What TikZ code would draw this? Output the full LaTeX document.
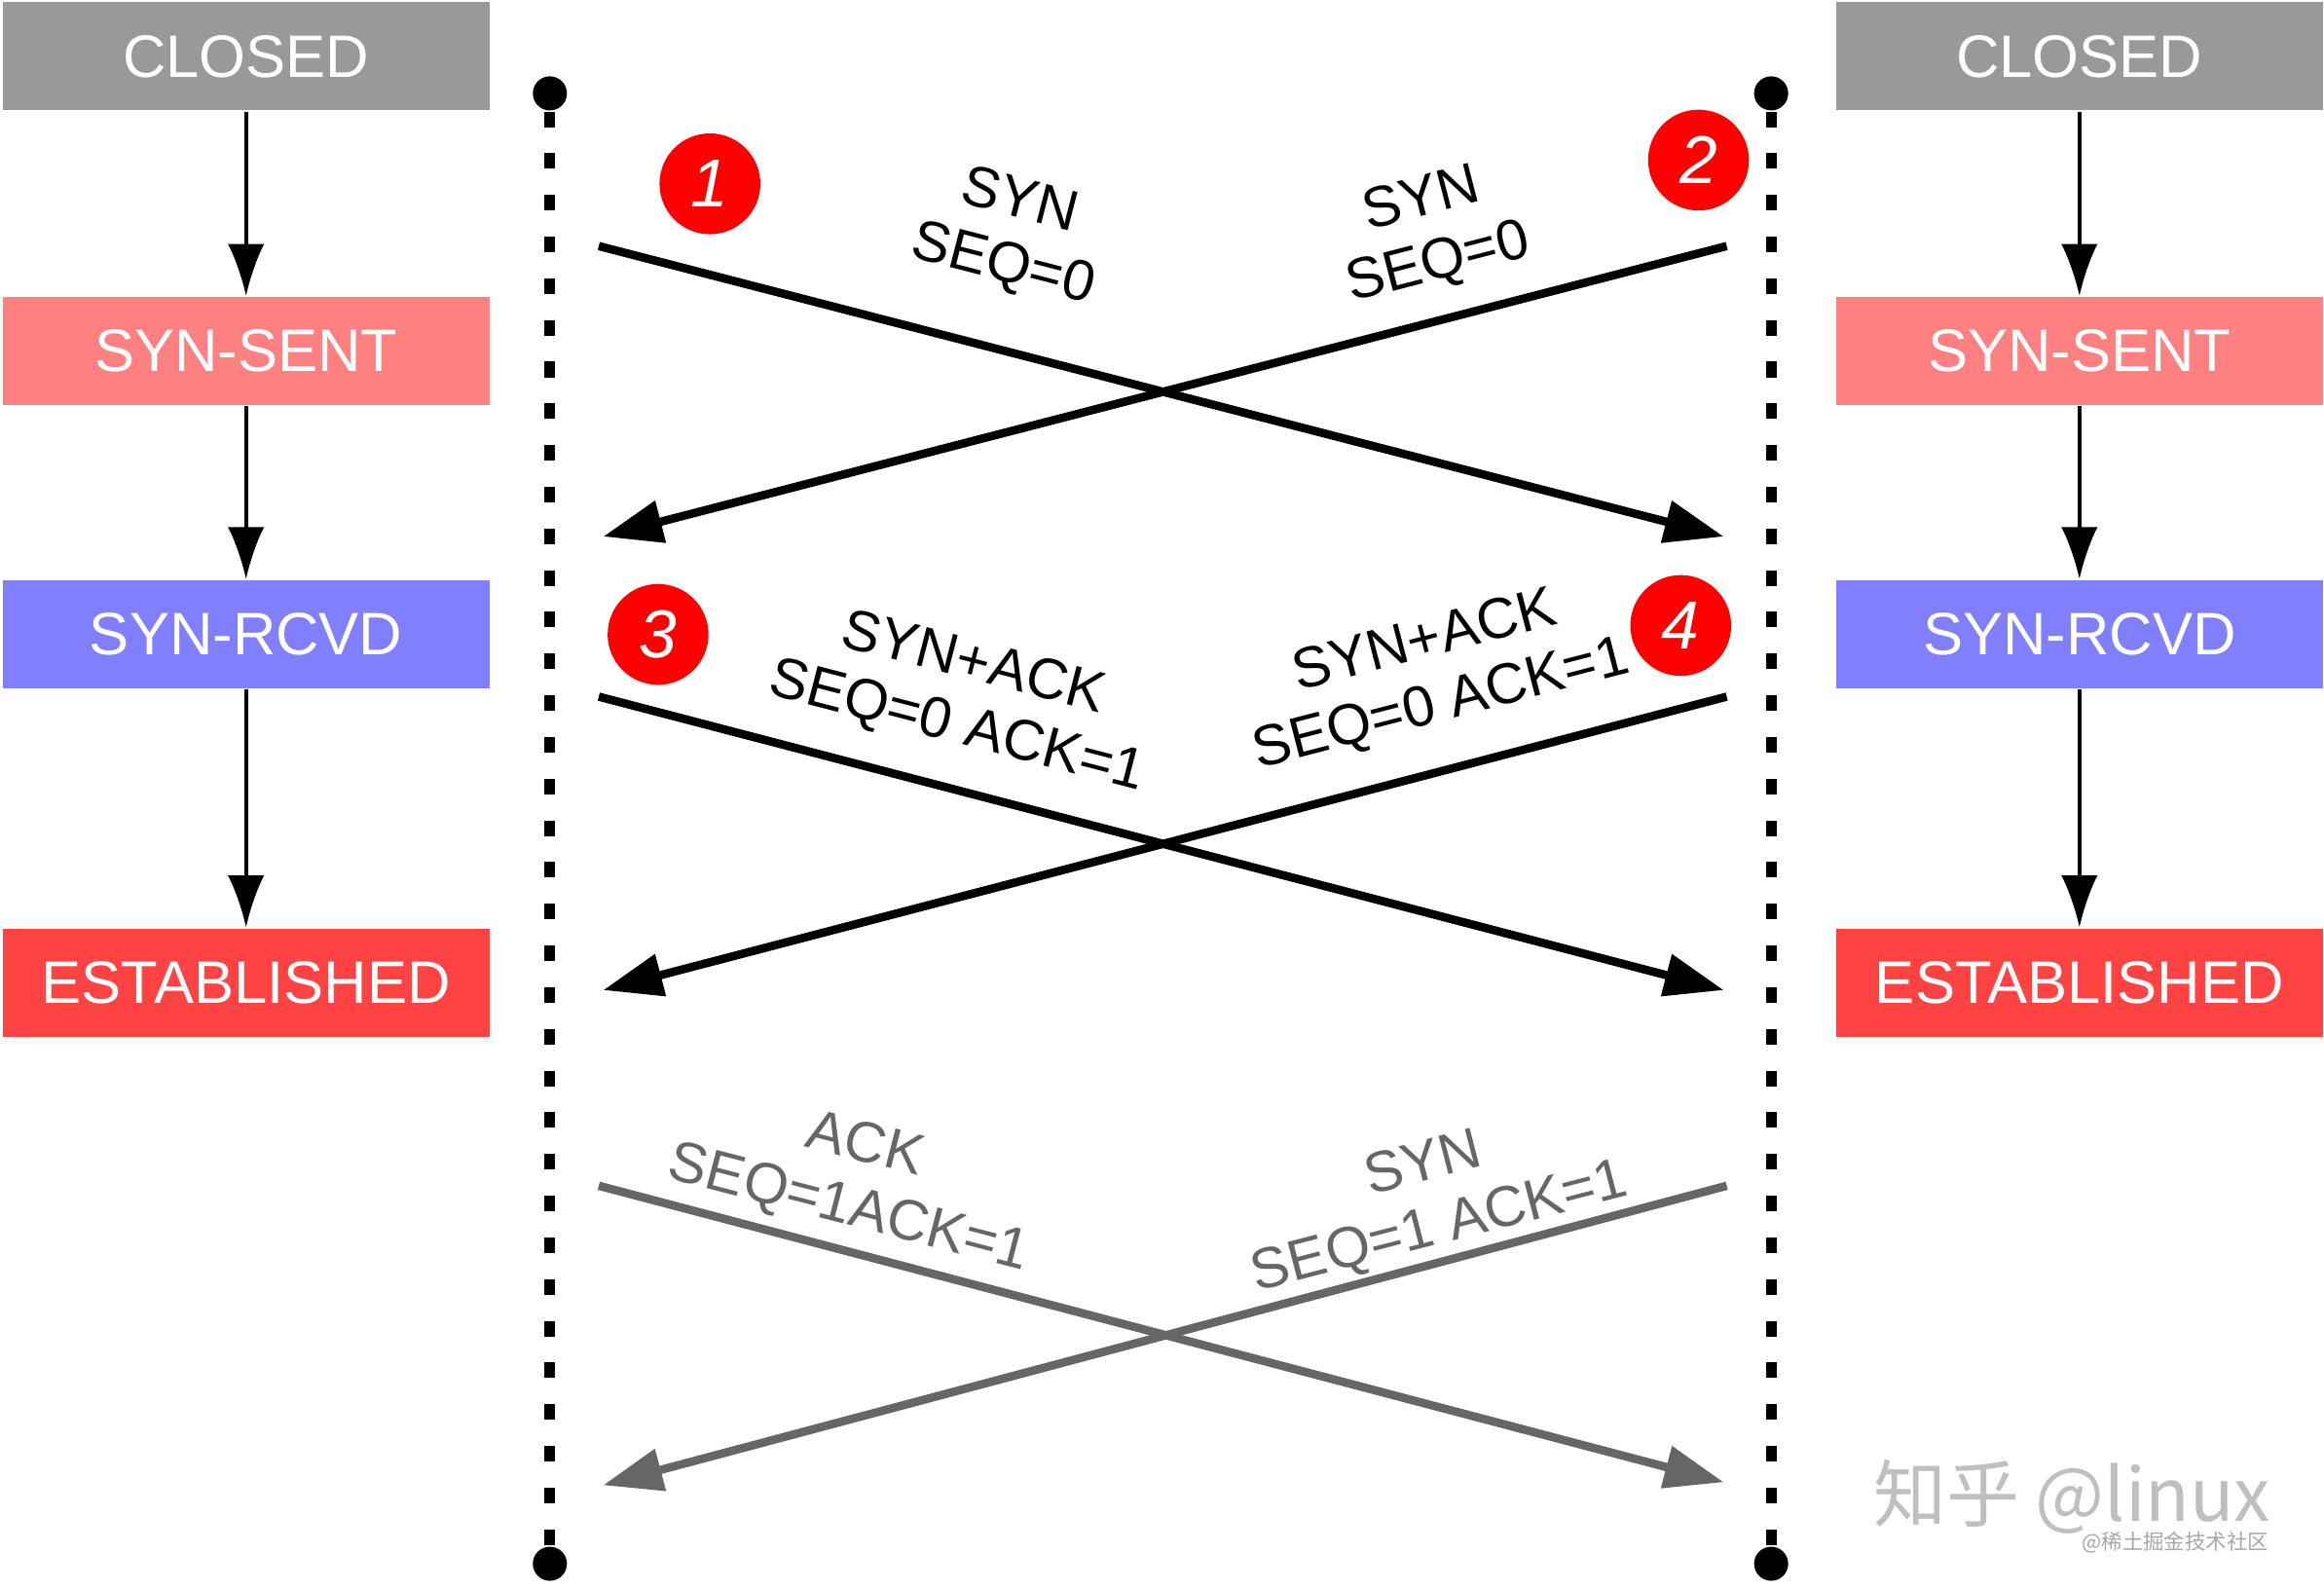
\documentclass[tikz,border=0pt]{standalone}
\usepackage{fontspec}
\setmainfont{Liberation Sans}
\newfontfamily\cjk{Noto Sans CJK SC}
\usetikzlibrary{arrows.meta}
\definecolor{stgray}{HTML}{999999}
\definecolor{stsent}{HTML}{FF8080}
\definecolor{strcvd}{HTML}{8080FF}
\definecolor{stest}{HTML}{FF4343}
\definecolor{msggray}{HTML}{666666}
\tikzset{
  state/.style={fill=#1, text=white, minimum width=3.28cm, minimum height=0.73cm, inner sep=0pt, font=\fontsize{11.5}{12}\selectfont},
  trans/.style={-{Latex[length=10pt,width=7pt]}, thick},
  msg/.style={-{Triangle[length=0.4cm,width=0.28cm]}, line width=1.6pt},
  lbl/.style={align=center, font=\fontsize{11}{12.5}\selectfont, inner sep=0pt},
  num/.style={circle, fill=red, text=white, minimum size=0.68cm, inner sep=0pt, font=\fontsize{13}{13}\selectfont\itshape},
  life/.style={line width=2pt, dash pattern=on 3pt off 5pt},
  dot/.style={circle, fill=black, minimum size=0.23cm, inner sep=0pt}
}
\begin{document}
\begin{tikzpicture}[x=0.01cm, y=-0.01cm]
\useasboundingbox (0,0) rectangle (1568,1072);
% states, left and right
\foreach \side/\x in {l/166, r/1403}{
  \node[state=stgray] (\side closed) at (\x,38) {CLOSED};
  \node[state=stsent] (\side sent) at (\x,237) {SYN-SENT};
  \node[state=strcvd] (\side rcvd) at (\x,428) {SYN-RCVD};
  \node[state=stest] (\side est) at (\x,663) {ESTABLISHED};
  \draw[trans] (\side closed) -- (\side sent);
  \draw[trans] (\side sent) -- (\side rcvd);
  \draw[trans] (\side rcvd) -- (\side est);
}
% life lines
\node[dot] (ltop) at (371,63) {};
\node[dot] (lbot) at (371,1055) {};
\node[dot] (rtop) at (1195,63) {};
\node[dot] (rbot) at (1195,1055) {};
\draw[life] (ltop) -- (lbot);
\draw[life] (rtop) -- (rbot);
% message ends
\coordinate (a1) at (404,166); \coordinate (b1) at (1163,362);
\coordinate (a2) at (1165,166); \coordinate (b2) at (407,362);
\coordinate (a3) at (404,470); \coordinate (b3) at (1163,668);
\coordinate (a4) at (1165,470); \coordinate (b4) at (407,668);
\coordinate (a5) at (404,800); \coordinate (b5) at (1163,1000);
\coordinate (a6) at (1165,800); \coordinate (b6) at (407,1002);
\draw[msg] (a1) -- (b1);
\draw[msg] (a2) -- (b2);
\draw[msg] (a3) -- (b3);
\draw[msg] (a4) -- (b4);
\draw[msg, msggray] (a5) -- (b5);
\draw[msg, msggray] (a6) -- (b6);
% labels
\node[lbl, rotate=-14.5] (m1) at (682,158) {SYN\\SEQ=0};
\node[lbl, rotate=14.5] (m2) at (965,157) {SYN\\SEQ=0};
\node[lbl, rotate=-14.5] (m3) at (651,470) {SYN+ACK\\SEQ=0 ACK=1};
\node[lbl, rotate=14.5] (m4) at (967,455) {SYN+ACK\\SEQ=0 ACK=1};
\node[lbl, rotate=-14.5, msggray] (m5) at (578,795) {ACK\\SEQ=1ACK=1};
\node[lbl, rotate=14.5, msggray] (m6) at (966,808) {SYN\\SEQ=1 ACK=1};
% step numbers
\node[num] (n1) at (479,124) {1};
\node[num] (n2) at (1146,108) {2};
\node[num] (n3) at (444,428) {3};
\node[num] (n4) at (1134,422) {4};
% watermark
\node[text=black!25, font=\cjk\fontsize{14}{14}\selectfont] (wm) at (1398,1010) {知乎 @linux};
\node[text=black!35, font=\cjk\fontsize{4}{5}\selectfont, anchor=east] (wm2) at (1543,1041) {@稀土掘金技术社区};
\end{tikzpicture}
\end{document}
